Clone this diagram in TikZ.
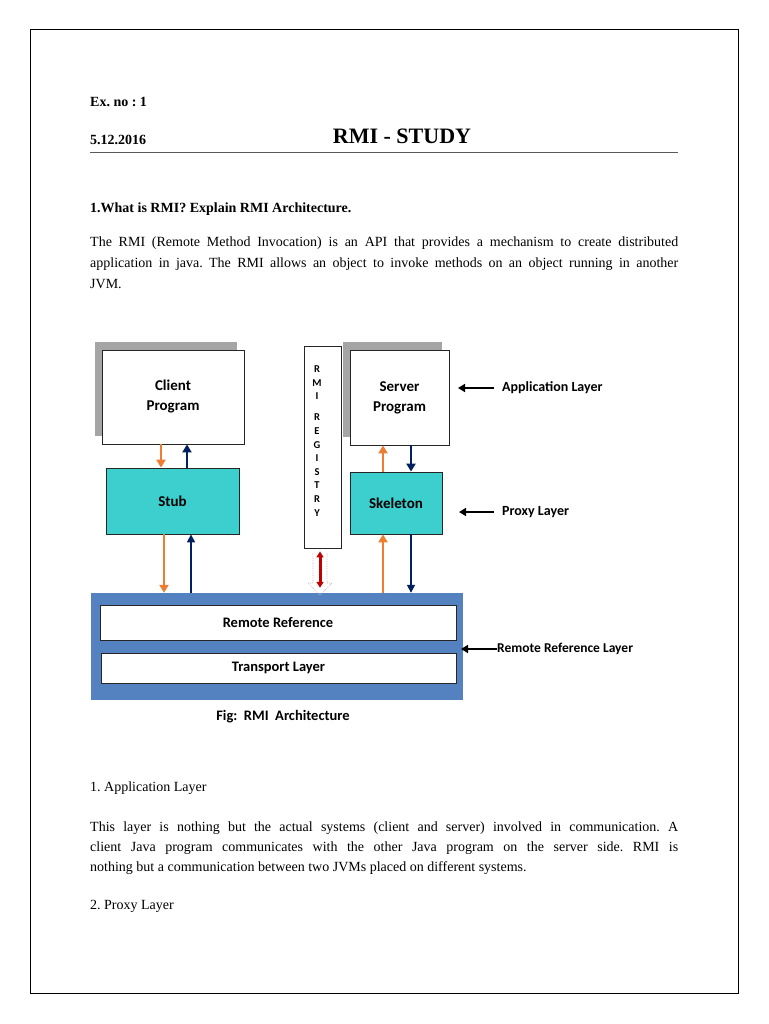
\documentclass[tikz,border=0pt]{standalone}
\usepackage{fontspec}
\setmainfont{Liberation Serif}
\newfontfamily\calfont{Carlito}
\usetikzlibrary{arrows.meta,backgrounds}
\definecolor{orng}{RGB}{237,125,49}
\definecolor{navy}{RGB}{0,32,96}
\definecolor{turq}{RGB}{60,207,205}
\definecolor{bandblue}{RGB}{84,130,192}
\definecolor{darkred}{RGB}{192,0,0}
\definecolor{shadowgray}{RGB}{165,165,165}
\frenchspacing
\begin{document}
\begin{tikzpicture}[x=1pt,y=-1pt,
  txt/.style={inner sep=0pt, font=\fontsize{14}{21}\selectfont},
  hdr/.style={inner sep=0pt, font=\bfseries\fontsize{14}{17}\selectfont},
  box/.style={draw=black!85, line width=0.8pt, fill=white, inner sep=0pt, align=center,
    font=\calfont\bfseries\fontsize{15}{20}\selectfont},
  cbox/.style={box, fill=turq},
  wbox/.style={draw=black!85, line width=0.8pt, fill=white, inner sep=0pt,
    font=\calfont\bfseries\fontsize{14.5}{16}\selectfont},
  lab/.style={inner sep=0pt, anchor=west, font=\calfont\bfseries\fontsize{14}{16}\selectfont},
  orarrow/.style={draw=orng, line width=2.6pt, -{Triangle[width=9pt,length=8pt]}},
  bluarrow/.style={draw=navy, line width=2.6pt, -{Triangle[width=9pt,length=8pt]}},
  bluthin/.style={draw=navy, line width=1.6pt, -{Triangle[width=8pt,length=8pt]}},
  lblarrow/.style={draw=black, line width=1.6pt, -{Triangle[width=8pt,length=7pt]}},
  redarrow/.style={draw=darkred, line width=3pt, {Triangle[width=7pt,length=6pt]}-{Triangle[width=7pt,length=6pt]}},
  shadowfill/.style={fill=shadowgray}
]
\useasboundingbox (0,0) rectangle (768,1024);
\draw[line width=1pt] (30,30) rectangle (738,993);

% header
\node[hdr, anchor=base west] (exno) at (90,107) {Ex. no : 1};
\node[hdr, anchor=base west] (date) at (90,145) {5.12.2016};
\node[inner sep=0pt, anchor=base, font=\bfseries\fontsize{22}{26}\selectfont] (title) at (402,144) {RMI - STUDY};
\draw[gray!70!black, line width=0.9pt] (90,152) -- (678,152);
\node[hdr, anchor=base west] (q1) at (90,213) {1.What is RMI? Explain RMI Architecture.};

% paragraph 1
\node[txt, anchor=base west] (p1a) at (90,246) {\makebox[588pt][s]{The RMI (Remote Method Invocation) is an API that provides a mechanism to create distributed}};
\node[txt, anchor=base west] (p1b) at (90,267) {\makebox[588pt][s]{application in java. The RMI allows an object to invoke methods on an object running in another}};
\node[txt, anchor=base west] (p1c) at (90,288) {JVM.};

% diagram boxes
\node[box, minimum width=142pt, minimum height=94pt] (client) at (173,397) {Client\\Program};
\node[box, minimum width=99pt, minimum height=95pt] (server) at (399.5,397.5) {Server\\Program};
\begin{scope}[on background layer]
  \fill[white] (0,0) rectangle (768,1024);
  \fill[shadowfill] ([shift={(-7,-8)}]client.north west) rectangle ([shift={(-7,-8)}]client.south east);
  \fill[shadowfill] ([shift={(-7,-8)}]server.north west) rectangle ([shift={(-7,-8)}]server.south east);
\end{scope}
\node[cbox, minimum width=133pt, minimum height=66pt] (stub) at (172.5,501) {Stub};
\node[cbox, minimum width=92pt, minimum height=62pt] (skel) at (396,503) {Skeleton};
\node[box, minimum width=37pt, minimum height=202pt] (reg) at (322.5,447) {};
\node[inner sep=0pt, align=center, font=\calfont\bfseries\fontsize{10.5}{13.6}\selectfont] (regtxt) at (317,441)
  {R\\M\\I\\[7.5pt]R\\E\\G\\I\\S\\T\\R\\Y};

\node[fill=bandblue, minimum width=372pt, minimum height=107pt, inner sep=0pt] (band) at (277,646.5) {};
\node[wbox, minimum width=356pt, minimum height=35pt] (rref) at (278,622.5) {Remote Reference};
\node[wbox, minimum width=355pt, minimum height=30pt] (trans) at (278.5,668) {Transport Layer};

% vertical arrows
\coordinate (xa) at (161,0);
\coordinate (xb) at (187,0);
\coordinate (xc) at (164,0);
\coordinate (xd) at (191,0);
\coordinate (xe) at (383,0);
\coordinate (xf) at (411,0);
\coordinate (xr) at (320,0);
\draw[orarrow] (client.south -| xa) -- (stub.north -| xa);
\draw[bluarrow] (stub.north -| xb) -- (client.south -| xb);
\draw[orarrow] (stub.south -| xc) -- (band.north -| xc);
\draw[bluthin] (band.north -| xd) -- (stub.south -| xd);
\draw[orarrow] (skel.north -| xe) -- (server.south -| xe);
\draw[bluarrow] (server.south -| xf) -- (skel.north -| xf);
\draw[orarrow] (band.north -| xe) -- (skel.south -| xe);
\draw[bluthin] (skel.south -| xf) -- (band.north -| xf);

% registry link
\draw[gray!55, densely dotted, line width=0.7pt] (313,553) -- (313,583) -- (308,583) -- (320,595) -- (332,583) -- (327,583) -- (327,553);
\draw[redarrow] ([yshift=-3pt]reg.south -| xr) -- ([yshift=5pt]band.north -| xr);

% layer labels
\node[lab] (applab) at (502,388) {Application Layer};
\coordinate (append) at (458,388);
\draw[lblarrow, shorten <=8pt] (applab.west) -- (append);
\node[lab] (proxlab) at (502,512) {Proxy Layer};
\coordinate (proxend) at (459,512);
\draw[lblarrow, shorten <=8pt] (proxlab.west) -- (proxend);
\node[lab, font=\calfont\bfseries\fontsize{13.5}{15}\selectfont] (rrlab) at (497,649) {Remote Reference Layer};
\coordinate (rrend) at (461,649);
\draw[lblarrow] (rrlab.west) -- (rrend);

\node[inner sep=0pt, font=\calfont\bfseries\fontsize{14.5}{16}\selectfont] (fig) at (283,717) {Fig:\ \ RMI\ \ Architecture};

% lower text
\node[txt, anchor=base west] (s1) at (90,791) {1. Application Layer};
\node[txt, anchor=base west] (p2a) at (90,831) {\makebox[588pt][s]{This layer is nothing but the actual systems (client and server) involved in communication. A}};
\node[txt, anchor=base west] (p2b) at (90,851) {\makebox[588pt][s]{client Java program communicates with the other Java program on the server side. RMI is}};
\node[txt, anchor=base west] (p2c) at (90,871) {nothing but a communication between two JVMs placed on different systems.};
\node[txt, anchor=base west] (s2) at (90,909) {2. Proxy Layer};
\end{tikzpicture}
\end{document}
